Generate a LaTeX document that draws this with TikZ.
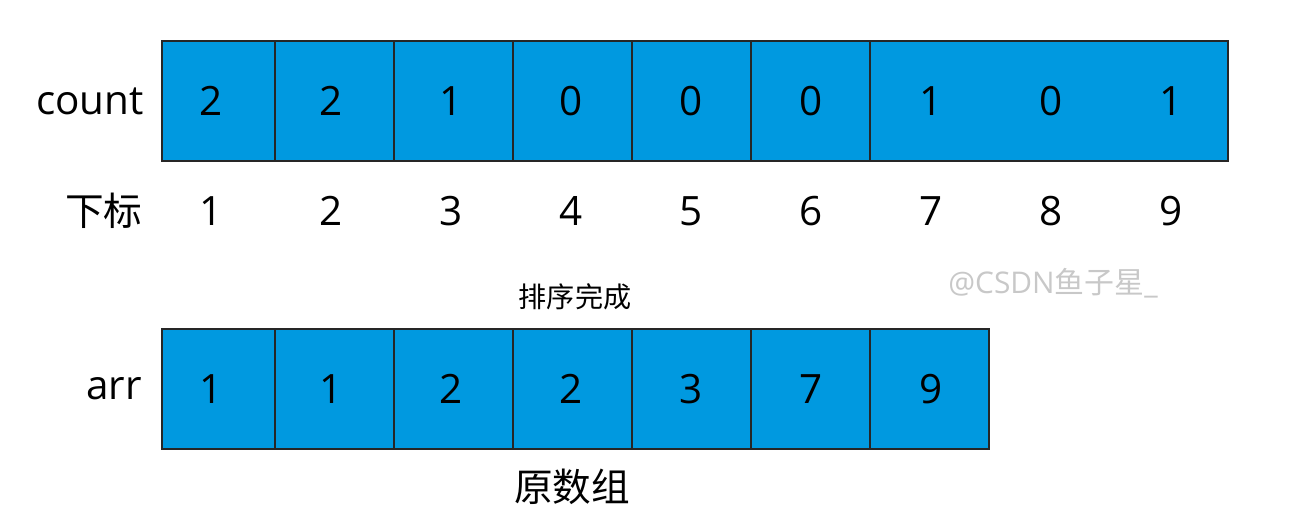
\documentclass[tikz,border=0pt]{standalone}
\usepackage{fontspec}
\setmainfont{Open Sans}
\newfontfamily\cjk{Noto Sans CJK SC}
\definecolor{cellblue}{RGB}{0,153,224}
\definecolor{markgray}{RGB}{200,200,200}

\begin{document}
\begin{tikzpicture}[x=0.02cm, y=-0.02cm,
    cellbox/.style={draw=black!85, line width=1.1pt, fill=cellblue},
    outline/.style={draw=black!85, line width=1.5pt},
    num/.style={font=\fontsize{23}{27}\selectfont, inner sep=0pt}]
      \useasboundingbox (0,0) rectangle (1307,530);
      \def\rowh{120}

      % count row, the last three cells share one box
      \draw[cellbox] (162,41) rectangle (1228,161);
      \foreach \xx in {275,394,513,632,751,870}
        \draw[line width=1.1pt, black!85] (\xx,41) -- (\xx,161);
      \draw[outline] (162,41) rectangle (1228,161);
      \foreach \v [count=\i] in {2,2,1,0,0,0,1,0,1}
        \node[num] (cnt\i) at (91+120*\i,101) {\v};

      % index row
      \foreach \i in {1,...,9}
        \node[num] (idx\i) at (91+120*\i,211) {\i};

      % arr row
      \draw[cellbox] (162,329) rectangle (989,449);
      \foreach \xx in {275,394,513,632,751,870}
        \draw[line width=1.1pt, black!85] (\xx,329) -- (\xx,449);
      \draw[outline] (162,329) rectangle (989,449);
      \foreach \v [count=\i] in {1,1,2,2,3,7,9}
        \node[num] (arr\i) at (91+120*\i,389) {\v};

      % labels
      \node[num, anchor=east] (countlbl) at (144,101) {count};
      \node[anchor=east, inner sep=0pt] (idxlbl) at (143,211) {\cjk\fontsize{22}{26}\selectfont 下标};
      \node[num, anchor=east] (arrlbl) at (142,389) {arr};
      \node[inner sep=0pt] (donelbl) at (575,297) {\cjk\fontsize{16}{19}\selectfont 排序完成};
      \node[inner sep=0pt] (origlbl) at (572,487) {\cjk\fontsize{22}{26}\selectfont 原数组};
      \node[inner sep=0pt, text=markgray, anchor=west] (mark) at (948,283)
        {\fontsize{17}{20}\selectfont @CSDN{\cjk 鱼子星}\_};

    \end{tikzpicture}
\end{document}
